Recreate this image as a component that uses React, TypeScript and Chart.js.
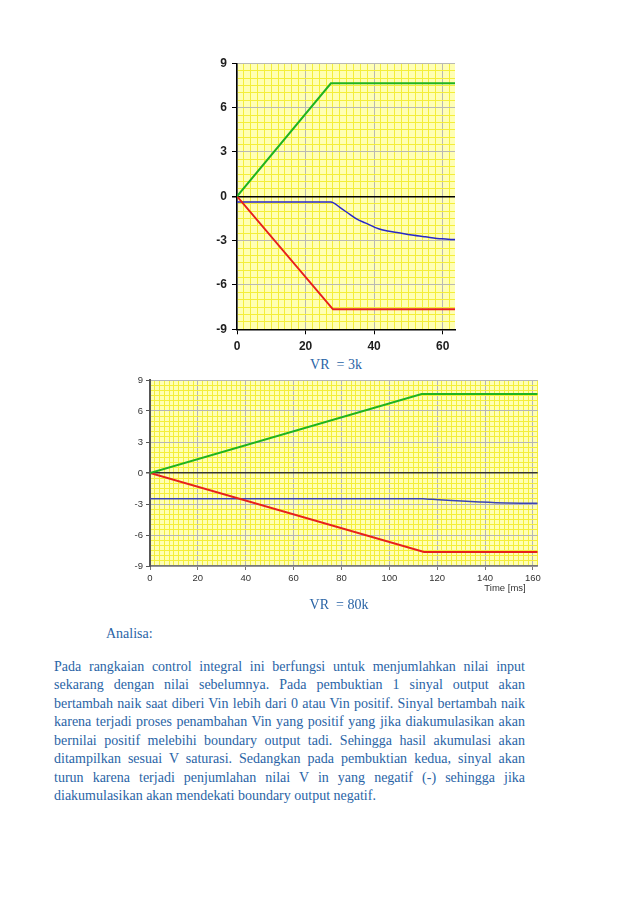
import React, { useEffect, useRef } from "react";
import { Chart, registerables } from "chart.js";

Chart.register(...registerables);

// ---------- Chart 1: VR = 3k ----------
const vr3kGreenTime = [0, 27.4, 63.6];
const vr3kGreenVolt = [0, 7.65, 7.65];
const vr3kRedTime = [0, 28, 63.6];
const vr3kRedVolt = [0, -7.65, -7.65];
const vr3kBlueTime = [0, 27.4, 30, 33, 35, 37.4, 41.3, 44, 47.1, 51, 54.9, 59.8, 63.6];
const vr3kBlueVolt = [-0.38, -0.38, -0.75, -1.24, -1.55, -1.8, -2.2, -2.35, -2.47, -2.62, -2.74, -2.88, -2.93];
const vr3kXTicks = [0, 20, 40, 60];
const vr3kXMax = 63.6;

// ---------- Chart 2: VR = 80k ----------
const vr80kGreenTime = [0, 113.5, 162];
const vr80kGreenVolt = [0, 7.65, 7.65];
const vr80kRedTime = [0, 114.5, 162];
const vr80kRedVolt = [0, -7.65, -7.65];
const vr80kBlueTime = [0, 114, 118, 126, 137.6, 148.8, 162];
const vr80kBlueVolt = [-2.5, -2.5, -2.55, -2.65, -2.8, -2.9, -2.92];
const vr80kXTicks = [0, 20, 40, 60, 80, 100, 120, 140, 160];
const vr80kXMax = 162;

// shared
const voltTicks = [-9, -6, -3, 0, 3, 6, 9];
const xMinorStep = 2;
const yMinorStep = 0.5;

const captionTop = "VR  = 3k";
const captionBottom = "VR  = 80k";
const analysisTitle = "Analisa:";
const analysisLines = [
  "Pada rangkaian control integral ini berfungsi untuk menjumlahkan nilai input",
  "sekarang dengan nilai sebelumnya. Pada pembuktian 1 sinyal output akan",
  "bertambah naik saat diberi Vin lebih dari 0 atau Vin positif. Sinyal bertambah naik",
  "karena terjadi proses penambahan Vin yang positif yang jika diakumulasikan akan",
  "bernilai positif melebihi boundary output tadi. Sehingga hasil akumulasi akan",
  "ditampilkan sesuai V saturasi. Sedangkan pada pembuktian kedua, sinyal akan",
  "turun karena terjadi penjumlahan nilai V in yang negatif (-) sehingga jika",
  "diakumulasikan akan mendekati boundary output negatif.",
];

const toPoints = (xs: number[], ys: number[]) => xs.map((x, i) => ({ x, y: ys[i] }));
const isIn = (arr: number[], v: number) => arr.some((m) => Math.abs(m - v) < 1e-6);

const plotBg = {
  id: "plotBg",
  beforeDraw(chart: any, _a: any, opts: any) {
    const { ctx, chartArea } = chart;
    if (!chartArea) return;
    ctx.save();
    ctx.fillStyle = opts.color || "#ffffb8";
    ctx.fillRect(chartArea.left, chartArea.top, chartArea.width, chartArea.height);
    ctx.restore();
  },
};

const axisNote = {
  id: "axisNote",
  afterDraw(chart: any, _a: any, opts: any) {
    if (!opts || !opts.text) return;
    const { ctx, chartArea } = chart;
    ctx.save();
    ctx.font = opts.font;
    ctx.fillStyle = opts.color;
    ctx.textAlign = "right";
    ctx.textBaseline = "middle";
    ctx.fillText(opts.text, chartArea.right + opts.dx, chartArea.bottom + opts.dy);
    ctx.restore();
  },
};

type Cfg = {
  green: { x: number; y: number }[];
  red: { x: number; y: number }[];
  blue: { x: number; y: number }[];
  xTicks: number[];
  xMax: number;
  yAxisWidth: number;
  xAxisHeight: number;
  padding: { top: number; right: number; left: number; bottom: number };
  font: any;
  labelColor: string;
  tickLength: number;
  tickPadding: number;
  majorColor: string;
  minorColor: string;
  zeroColor: string;
  xBorder: { color: string; width: number };
  yBorder: { color: string; width: number };
  lineWidth: number;
  blueColor: string;
  note?: any;
};

function buildChart(canvas: HTMLCanvasElement, c: Cfg) {
  const minorX = (scale: any) => {
    const vals: any[] = [];
    for (let v = 0; v <= c.xMax + 1e-9; v += xMinorStep) vals.push({ value: Math.round(v * 1000) / 1000 });
    scale.ticks = vals;
  };
  const minorY = (scale: any) => {
    const vals: any[] = [];
    for (let v = -9; v <= 9 + 1e-9; v += yMinorStep) vals.push({ value: Math.round(v * 1000) / 1000 });
    scale.ticks = vals;
  };
  return new Chart(canvas, {
    type: "line",
    data: {
      datasets: [
        { label: "green", data: c.green, borderColor: "#1fb41f", borderWidth: c.lineWidth, pointRadius: 0, tension: 0 },
        { label: "red", data: c.red, borderColor: "#e8201c", borderWidth: c.lineWidth, pointRadius: 0, tension: 0 },
        {
          label: "blue",
          data: c.blue,
          borderColor: c.blueColor,
          borderWidth: c.lineWidth - 0.5,
          pointRadius: 0,
          cubicInterpolationMode: "monotone",
        },
      ],
    },
    options: {
      animation: false,
      responsive: false,
      devicePixelRatio: 1,
      parsing: true,
      layout: { padding: c.padding },
      plugins: {
        legend: { display: false },
        tooltip: { enabled: false },
        plotBg: { color: "#ffffb4" },
        axisNote: c.note || {},
      } as any,
      scales: {
        x: {
          type: "linear",
          min: 0,
          max: c.xMax,
          afterBuildTicks: minorX,
          afterFit: (s: any) => {
            s.height = c.xAxisHeight;
          },
          ticks: {
            autoSkip: false,
            maxRotation: 0,
            minRotation: 0,
            padding: c.tickPadding,
            color: c.labelColor,
            font: c.font,
            callback: (v: any) => (isIn(c.xTicks, Number(v)) ? String(v) : ""),
          },
          grid: {
            z: -1,
            color: (ctx: any) => (ctx.tick && isIn(c.xTicks, ctx.tick.value) ? c.majorColor : c.minorColor),
            tickColor: (ctx: any) => (ctx.tick && isIn(c.xTicks, ctx.tick.value) ? c.xBorder.color : "rgba(0,0,0,0)"),
            tickLength: c.tickLength,
            lineWidth: 1,
          },
          border: { color: c.xBorder.color, width: c.xBorder.width },
        },
        y: {
          type: "linear",
          min: -9,
          max: 9,
          afterBuildTicks: minorY,
          afterFit: (s: any) => {
            s.width = c.yAxisWidth;
          },
          ticks: {
            autoSkip: false,
            padding: c.tickPadding,
            color: c.labelColor,
            font: c.font,
            callback: (v: any) => (isIn(voltTicks, Number(v)) ? String(v) : ""),
          },
          grid: {
            z: -1,
            color: (ctx: any) => {
              if (!ctx.tick) return c.minorColor;
              if (Math.abs(ctx.tick.value) < 1e-6) return c.zeroColor;
              return isIn(voltTicks, ctx.tick.value) ? c.majorColor : c.minorColor;
            },
            lineWidth: (ctx: any) => (ctx.tick && Math.abs(ctx.tick.value) < 1e-6 ? 1.5 : 1),
            tickColor: (ctx: any) => (ctx.tick && isIn(voltTicks, ctx.tick.value) ? c.yBorder.color : "rgba(0,0,0,0)"),
            tickLength: c.tickLength,
          },
          border: { color: c.yBorder.color, width: c.yBorder.width },
        },
      },
    } as any,
    plugins: [plotBg, axisNote] as any,
  });
}

function ChartCanvas({ cfg, left, top, width, height }: { cfg: Cfg; left: number; top: number; width: number; height: number }) {
  const ref = useRef<HTMLCanvasElement | null>(null);
  useEffect(() => {
    if (!ref.current) return;
    const ch = buildChart(ref.current, cfg);
    return () => ch.destroy();
  }, []);
  return (
    <canvas
      ref={ref}
      width={width}
      height={height}
      style={{ position: "absolute", left, top, width, height, display: "block" }}
    />
  );
}

const textBlue = "#2a64a6";

export default function App() {
  const cfgTop: Cfg = {
    green: toPoints(vr3kGreenTime, vr3kGreenVolt),
    red: toPoints(vr3kRedTime, vr3kRedVolt),
    blue: toPoints(vr3kBlueTime, vr3kBlueVolt),
    xTicks: vr3kXTicks,
    xMax: vr3kXMax,
    yAxisWidth: 37,
    xAxisHeight: 22.7,
    padding: { top: 13.3, right: 7, left: 0, bottom: 0 },
    font: { family: "'Liberation Sans', Arial, sans-serif", size: 12, weight: "bold" },
    labelColor: "#1e1e1e",
    tickLength: 5,
    tickPadding: 5,
    majorColor: "#b9b9b4",
    minorColor: "#f4ee3a",
    zeroColor: "#000000",
    xBorder: { color: "#000000", width: 1.5 },
    yBorder: { color: "#000000", width: 1.5 },
    lineWidth: 2,
    blueColor: "#2828c8",
  };
  const cfgBottom: Cfg = {
    green: toPoints(vr80kGreenTime, vr80kGreenVolt),
    red: toPoints(vr80kRedTime, vr80kRedVolt),
    blue: toPoints(vr80kBlueTime, vr80kBlueVolt),
    xTicks: vr80kXTicks,
    xMax: vr80kXMax,
    yAxisWidth: 50,
    xAxisHeight: 36,
    padding: { top: 10, right: 12.3, left: 0, bottom: 0 },
    font: { family: "'Liberation Sans', Arial, sans-serif", size: 9.5 },
    labelColor: "#333333",
    tickLength: 4,
    tickPadding: 3,
    majorColor: "#b4b4b8",
    minorColor: "#f4ee3a",
    zeroColor: "#333333",
    xBorder: { color: "#777777", width: 1.5 },
    yBorder: { color: "#555555", width: 2 },
    lineWidth: 2,
    blueColor: "#3a44b8",
    note: {
      text: "Time [ms]",
      font: "9.5px 'Liberation Sans', Arial, sans-serif",
      color: "#333333",
      dx: -12,
      dy: 22,
    },
  };

  return (
    <div
      style={{
        position: "absolute",
        left: 0,
        top: 0,
        width: 638,
        height: 906,
        background: "#ffffff",
        fontFamily: "'Liberation Serif', 'Times New Roman', serif",
        color: textBlue,
      }}
    >
      <ChartCanvas cfg={cfgTop} left={200} top={50} width={262} height={302} />
      <div style={{ position: "absolute", left: 300, top: 357, width: 72, textAlign: "center", fontSize: 14, lineHeight: "16px", whiteSpace: "pre" }}>
        {captionTop}
      </div>
      <ChartCanvas cfg={cfgBottom} left={100} top={370} width={450} height={232} />
      <div style={{ position: "absolute", left: 298, top: 597, width: 82, textAlign: "center", fontSize: 14, lineHeight: "16px", whiteSpace: "pre" }}>
        {captionBottom}
      </div>
      <div style={{ position: "absolute", left: 106, top: 626, fontSize: 14, lineHeight: "16px" }}>{analysisTitle}</div>
      <div style={{ position: "absolute", left: 54, top: 657.5, width: 471, fontSize: 14, lineHeight: "18.5px" }}>
        {analysisLines.map((line, i) => (
          <div
            key={i}
            style={{
              textAlign: "justify",
              textAlignLast: i === analysisLines.length - 1 ? "left" : "justify",
              whiteSpace: "normal",
            }}
          >
            {line}
          </div>
        ))}
      </div>
    </div>
  );
}
